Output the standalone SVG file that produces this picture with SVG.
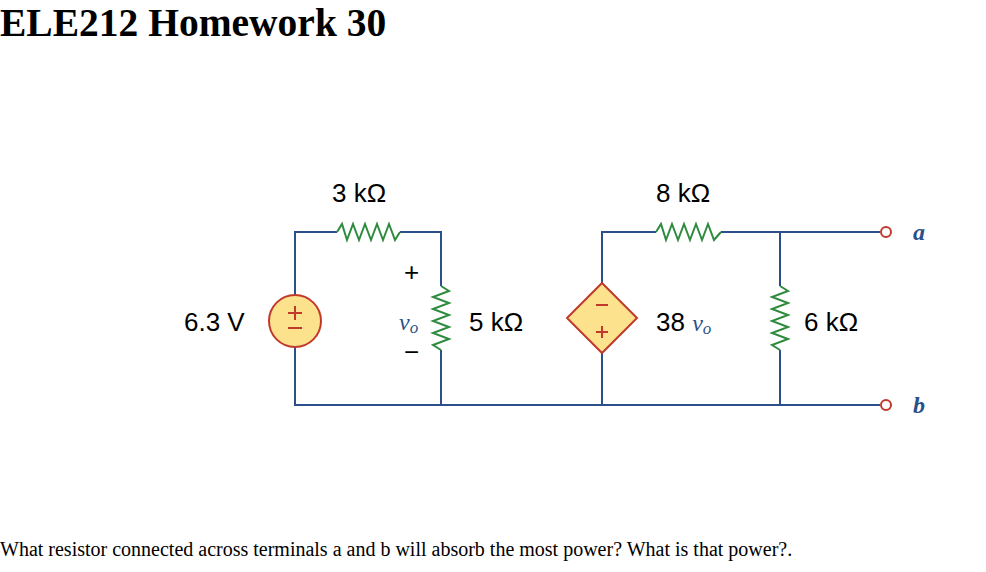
<svg xmlns="http://www.w3.org/2000/svg" width="986" height="572" viewBox="0 0 986 572">
<style>
.w{fill:none;stroke:#2b4f8a;stroke-width:2}
.r{fill:none;stroke:#2e8b3e;stroke-width:2;stroke-linejoin:miter}
.src{fill:#fde28e;stroke:#c0392b;stroke-width:2}
.sg{fill:none;stroke:#c0392b;stroke-width:2}
.t{font-family:"Liberation Sans",Arial,sans-serif;font-size:26px;fill:#000}
.v{font-family:"Liberation Serif",serif;font-style:italic;font-size:24px;fill:#2b4f8a}
.term{fill:#fff;stroke:#c0392b;stroke-width:2}
</style>
<rect width="986" height="572" fill="#fff"/>
<text x="0" y="36" font-family="Liberation Serif,serif" font-weight="bold" font-size="39.5">ELE212 Homework 30</text>
<g id="connectors">
<path class="w" d="M295 295 V232 H337 M400 232 H441 V286 M441 350 V405 M295 347 V405 H880 M602 283 V232 H656 M721 232 H880 M780 232 V286 M780 350 V405 M602 353 V405"/>
</g>
<g id="source">
<circle class="src" cx="295" cy="321" r="26"/>
<path class="sg" d="M288 313 H302 M295 306 V320 M288 328 H302"/>
<text class="t" x="184" y="331">6.3 V</text>
</g>
<g id="r3k">
<path class="r" d="M337 232 L342 224 L347 240 L353 224 L359 240 L365 224 L371 240 L377 224 L383 240 L389 224 L395 240 L400 232"/>
<text class="t" x="332" y="202">3 kΩ</text>
</g>
<g id="r5k">
<path class="r" d="M441 286 L449 291 L433 297 L449 303 L433 309 L449 315 L433 321 L449 327 L433 333 L449 339 L433 345 L441 350"/>
<text class="t" x="469" y="331">5 kΩ</text>
<text class="t" x="404" y="281" font-size="24">+</text>
<text class="v" x="399" y="330">v<tspan font-size="17" dy="3">o</tspan></text>
<text class="t" x="404" y="361" font-size="24">−</text>
</g>
<g id="dep">
<polygon class="src" points="602,283 637,318 602,353 567,318"/>
<path class="sg" d="M596 305 H608 M596 332 H608 M602 326 V338"/>
<text class="t" x="656" y="331">38 <tspan class="v">v<tspan font-size="17" dy="3">o</tspan></tspan></text>
</g>
<g id="r8k">
<path class="r" d="M656 232 L661 224 L666 240 L672 224 L678 240 L684 224 L690 240 L696 224 L702 240 L708 224 L714 240 L721 232"/>
<text class="t" x="656" y="202">8 kΩ</text>
</g>
<g id="r6k">
<path class="r" d="M780 286 L788 291 L772 297 L788 303 L772 309 L788 315 L772 321 L788 327 L772 333 L788 339 L772 345 L780 350"/>
<text class="t" x="804" y="331">6 kΩ</text>
</g>
<g id="ta">
<circle class="term" cx="886" cy="232" r="5"/>
<text class="v" x="913" y="240" fill="#1f3a66" font-weight="bold">a</text>
</g>
<g id="tb">
<circle class="term" cx="886" cy="405" r="5"/>
<text class="v" x="913" y="413" fill="#1f3a66" font-weight="bold">b</text>
</g>
<text x="0" y="556" font-family="Liberation Serif,serif" font-size="20">What resistor connected across terminals a and b will absorb the most power? What is that power?.</text>
</svg>
